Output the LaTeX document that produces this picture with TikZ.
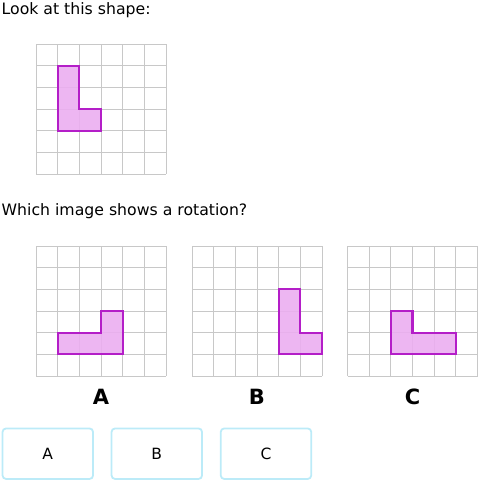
\documentclass[tikz,border=0pt]{standalone}
\usepackage{fontspec}
\setmainfont{DejaVu Sans}
\usepackage{tikz}
\usetikzlibrary{positioning,calc}
\definecolor{gridgray}{HTML}{C8C8C8}
\definecolor{lfill}{HTML}{EBAEF1}
\definecolor{ldraw}{HTML}{B41EC8}
\definecolor{choiceblue}{HTML}{BCEBF8}
\tikzstyle{gridline} = [draw=gridgray, line width=1pt]
\tikzstyle{lshape} = [draw=ldraw, fill=lfill, fill opacity=0.9, line width=2.2pt, line join=miter]
\tikzstyle{prompt} = [anchor=base west, inner sep=0pt, font=\fontsize{15.7}{18}\selectfont]
\tikzstyle{letter} = [inner sep=0pt, font=\fontsize{21}{24}\selectfont\bfseries]
\tikzstyle{choice} = [draw=choiceblue, line width=1.8pt, rounded corners=3.5pt, minimum width=90.5pt, minimum height=50.5pt, font=\fontsize{15.5}{18}\selectfont]

\begin{document}
\begin{tikzpicture}[x=1pt, y=-1pt]
        \useasboundingbox (0,0) rectangle (480,482);
        \node[prompt] (look) at (1.5,14) {Look at this shape:};
        \node[prompt] (which) at (1.5,215.7) {Which image shows a rotation?};
        % grids
        \foreach \gx/\gy in {36/44, 36/246, 192/246, 347.5/246} {
          \begin{scope}[shift={(\gx,\gy)}, x=21.667pt, y=-21.667pt]
            \foreach \i in {0,...,6} {
              \draw[gridline] (\i,0) -- (\i,6);
              \draw[gridline] (0,\i) -- (6,\i);
            }
          \end{scope}
        }
        % the shape and the three choices
        \begin{scope}[shift={(36,44)}, x=21.667pt, y=-21.667pt]
          \draw[lshape] (1,1) -- (2,1) -- (2,3) -- (3,3) -- (3,4) -- (1,4) -- cycle;
        \end{scope}
        \begin{scope}[shift={(36,246)}, x=21.667pt, y=-21.667pt]
          \draw[lshape] (1,4) -- (3,4) -- (3,3) -- (4,3) -- (4,5) -- (1,5) -- cycle;
        \end{scope}
        \begin{scope}[shift={(192,246)}, x=21.667pt, y=-21.667pt]
          \draw[lshape] (4,2) -- (5,2) -- (5,4) -- (6,4) -- (6,5) -- (4,5) -- cycle;
        \end{scope}
        \begin{scope}[shift={(347.5,246)}, x=21.667pt, y=-21.667pt]
          \draw[lshape] (2,3) -- (3,3) -- (3,4) -- (5,4) -- (5,5) -- (2,5) -- cycle;
        \end{scope}
        \node[letter] (labelA) at (101,396.5) {A};
        \node[letter] (labelB) at (257,396.5) {B};
        \node[letter] (labelC) at (412.5,396.5) {C};
        \node[choice] (choiceA) at (47.8,453.7) {A};
        \node[choice] (choiceB) at (156.8,453.7) {B};
        \node[choice] (choiceC) at (266,453.7) {C};
\end{tikzpicture}
\end{document}
